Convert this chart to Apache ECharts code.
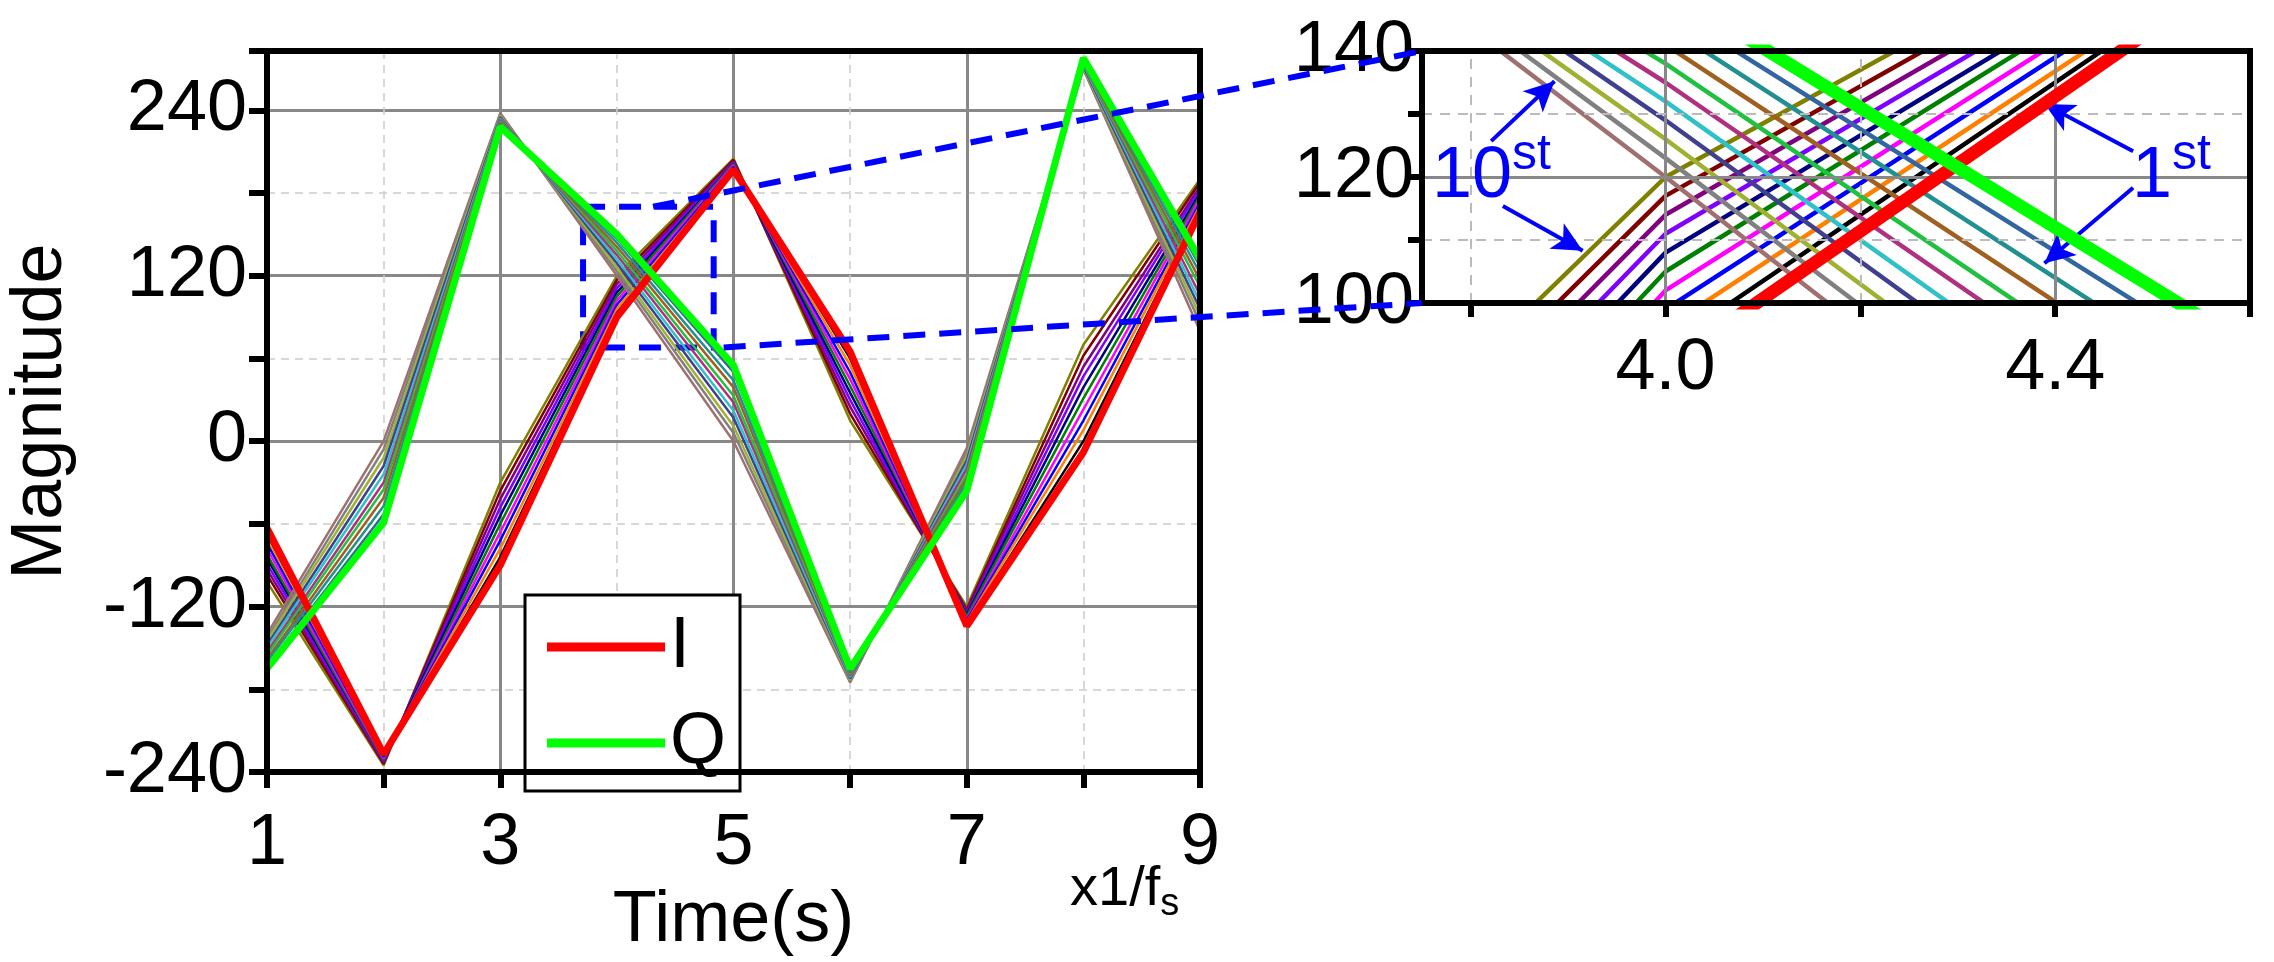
<!DOCTYPE html>
<html>
<head>
<meta charset="utf-8">
<script src="https://cdn.jsdelivr.net/npm/echarts@6/dist/echarts.min.js"></script>
<style>html,body{margin:0;background:#fff}#main{width:2274px;height:962px}</style>
</head>
<body>
<div id="main"></div>
<script>
// sample times
var times = [1, 2, 3, 4, 5, 6, 7, 8, 9];

// I channel, 1st (thick red) .. 11th
var iData = [
  [-63, -227, -90, 90, 197, 65, -134, -8, 166],
  [-67, -228, -84, 93, 198, 60, -133, 0, 168],
  [-70, -228, -78, 96, 198, 55, -131, 8, 171],
  [-74, -229, -72, 99, 199, 50, -130, 15, 173],
  [-78, -230, -66, 102, 200, 45, -129, 23, 176],
  [-82, -231, -60, 105, 201, 40, -127, 31, 178],
  [-85, -231, -54, 108, 201, 35, -126, 39, 180],
  [-89, -232, -48, 111, 202, 30, -125, 47, 183],
  [-93, -233, -42, 114, 203, 25, -123, 54, 185],
  [-97, -234, -36, 117, 204, 20, -122, 62, 188],
  [-102, -235, -30, 120, 205, 15, -120, 70, 190]
];
var iColors = ['#ff0000', '#000000', '#ff8000', '#0000ff', '#ff00ff', '#008000',
  '#000080', '#8000ff', '#800080', '#800000', '#808000'];

// Q channel, 1st (thick green) .. 11th
var qData = [
  [-165, -59, 228, 150, 55, -165, -36, 278, 132],
  [-163, -53, 229, 147, 50, -166, -33, 277, 127],
  [-160, -47, 230, 144, 44, -167, -30, 276, 122],
  [-158, -41, 231, 141, 39, -168, -27, 275, 117],
  [-155, -35, 232, 138, 33, -169, -24, 274, 112],
  [-153, -30, 233, 135, 28, -170, -20, 274, 106],
  [-150, -24, 234, 132, 22, -171, -17, 273, 101],
  [-148, -18, 235, 129, 17, -172, -14, 272, 96],
  [-145, -12, 236, 126, 11, -173, -11, 271, 91],
  [-143, -6, 237, 123, 6, -174, -8, 270, 86],
  [-140, 0, 238, 120, 0, -175, -5, 270, 80]
];
var qColors = ['#00ff00', '#3366a0', '#209090', '#a06020', '#20c040', '#b03080',
  '#30c0c8', '#404090', '#a0b030', '#808080', '#a07070'];

var yTicksMain = [-240, -120, 0, 120, 240];
var zoomBox = {x0: 3.71, x1: 4.83, y0: 68, y1: 170};

var FONT = '"Liberation Sans", sans-serif';
var chart = echarts.init(document.getElementById('main'));

function pairs(vals) {
  return vals.map(function (v, i) { return [times[i], v]; });
}

var series = [];
function addSeries(list, colors, name, gridIdx) {
  for (var k = list.length - 1; k >= 0; k--) {
    series.push({
      name: k === 0 ? name : name + k,
      type: 'line',
      xAxisIndex: gridIdx, yAxisIndex: gridIdx,
      data: pairs(list[k]),
      showSymbol: false, silent: true,
      z: k === 0 ? 5 : 3,
      lineStyle: {color: colors[k], width: k === 0 ? (gridIdx ? 13 : 7) : (gridIdx ? 4.5 : 2.5)},
      itemStyle: {color: colors[k]}
    });
  }
}
addSeries(iData, iColors, 'I', 0);
addSeries(qData, qColors, 'Q', 0);
addSeries(iData, iColors, 'I', 1);
addSeries(qData, qColors, 'Q', 1);

// zoom box on main plot
series.push({
  type: 'line', xAxisIndex: 0, yAxisIndex: 0, data: [], silent: true,
  markArea: {
    silent: true,
    itemStyle: {color: 'rgba(0,0,0,0)', borderColor: '#0000ff', borderWidth: 6, borderType: [22, 14]},
    data: [[{coord: [zoomBox.x0, zoomBox.y1]}, {coord: [zoomBox.x1, zoomBox.y0]}]]
  }, z: 6
});

// inset grid lines and arrows
var dashed = {color: '#bbb', width: 2, type: [10, 8]};
var solid = {color: '#888', width: 3, type: 'solid'};
series.push({
  type: 'line', xAxisIndex: 1, yAxisIndex: 1, data: [], silent: true, z: 1,
  markLine: {
    silent: true, symbol: 'none', label: {show: false},
    data: [
      {xAxis: 3.8, lineStyle: dashed}, {xAxis: 4.2, lineStyle: dashed},
      {xAxis: 4.0, lineStyle: solid}, {xAxis: 4.4, lineStyle: solid},
      {yAxis: 110, lineStyle: dashed}, {yAxis: 130, lineStyle: dashed},
      {yAxis: 120, lineStyle: solid}
    ]
  }
});
var arrows = [
  [[3.821, 125.7], [3.886, 135.2]],
  [[3.833, 115.4], [3.915, 108.3]],
  [[4.480, 124.1], [4.389, 131.6]],
  [[4.480, 118.3], [4.389, 106.3]]
];
series.push({
  type: 'line', xAxisIndex: 1, yAxisIndex: 1, data: [], silent: true, z: 8,
  markLine: {
    silent: true, symbol: ['none', 'arrow'], symbolSize: [22, 30], label: {show: false},
    lineStyle: {color: '#0000ff', width: 4, type: 'solid'},
    data: arrows.map(function (a) { return [{coord: a[0]}, {coord: a[1]}]; })
  }
});

var axisTxt = {color: '#000', fontFamily: FONT, fontSize: 72};

chart.setOption({
  backgroundColor: '#fff',
  animation: false,
  grid: [
    {left: 267, top: 51, width: 933, height: 725, show: true, borderColor: '#000', borderWidth: 6, z: 10},
    {left: 1422, top: 51, width: 828, height: 252, show: true, borderColor: '#000', borderWidth: 6, z: 10}
  ],
  legend: {
    data: ['I', 'Q'], left: 525, top: 595, orient: 'vertical',
    padding: [16, 14, 12, 22], itemGap: 24, itemWidth: 118, itemHeight: 9,
    icon: 'rect', borderColor: '#000', borderWidth: 3, backgroundColor: '#fff',
    textStyle: {fontFamily: FONT, fontSize: 72, color: '#000', padding: [0, 0, 0, 0]}
  },
  xAxis: [
    {
      type: 'value', gridIndex: 0, min: 1, max: 9, interval: 2,
      name: 'Time(s)', nameLocation: 'middle', nameGap: 112,
      nameTextStyle: {fontFamily: FONT, fontSize: 72, color: '#000'},
      axisLine: {show: true, onZero: false, lineStyle: {color: '#000', width: 6}},
      axisTick: {show: true, length: 16, lineStyle: {width: 6, color: '#000'}},
      minorTick: {show: true, splitNumber: 2, length: 16, lineStyle: {width: 6, color: '#000'}},
      axisLabel: Object.assign({margin: 36}, axisTxt),
      splitLine: {show: true, lineStyle: {color: '#888', width: 3}},
      minorSplitLine: {show: true, lineStyle: {color: '#ccc', width: 1.5, type: [8, 6]}}
    },
    {
      type: 'value', gridIndex: 1, min: 3.75, max: 4.6,
      axisLine: {show: true, onZero: false, lineStyle: {color: '#000', width: 6}},
      axisTick: {show: true, length: 14, customValues: [3.8, 4.0, 4.2, 4.4, 4.6], lineStyle: {width: 6, color: '#000'}},
      axisLabel: Object.assign({margin: 30, customValues: [4.0, 4.4],
        formatter: function (v) { return v.toFixed(1); }}, axisTxt),
      splitLine: {show: false}
    }
  ],
  yAxis: [
    {
      type: 'value', gridIndex: 0, min: -240, max: 283, interval: 120,
      name: 'Magnitude', nameLocation: 'middle', nameGap: 190, nameRotate: 90,
      nameTextStyle: {fontFamily: FONT, fontSize: 72, color: '#000'},
      axisLine: {show: true, onZero: false, lineStyle: {color: '#000', width: 6}},
      axisTick: {show: true, length: 18, lineStyle: {width: 6, color: '#000'}},
      minorTick: {show: true, splitNumber: 2, length: 18, lineStyle: {width: 6, color: '#000'}},
      axisLabel: Object.assign({margin: 20, customValues: yTicksMain}, axisTxt),
      splitLine: {show: true, lineStyle: {color: '#888', width: 3}},
      minorSplitLine: {show: true, lineStyle: {color: '#ccc', width: 1.5, type: [8, 6]}}
    },
    {
      type: 'value', gridIndex: 1, min: 100, max: 140, interval: 20,
      axisLine: {show: true, onZero: false, lineStyle: {color: '#000', width: 6}},
      axisTick: {show: true, length: 14, lineStyle: {width: 6, color: '#000'}},
      minorTick: {show: true, splitNumber: 2, length: 14, lineStyle: {width: 6, color: '#000'}},
      axisLabel: Object.assign({margin: 8}, axisTxt),
      splitLine: {show: false}
    }
  ],
  series: series
});

// connectors from zoom box to inset, plus text labels
var tl = chart.convertToPixel({gridIndex: 0}, [zoomBox.x0, zoomBox.y1]);
var br = chart.convertToPixel({gridIndex: 0}, [zoomBox.x1, zoomBox.y0]);
var itl = chart.convertToPixel({gridIndex: 1}, [3.75, 140]);
var ibl = chart.convertToPixel({gridIndex: 1}, [3.75, 100]);
var conn = {stroke: '#0000ff', lineWidth: 6, lineDash: [22, 14]};
chart.setOption({
  graphic: [
    {type: 'polyline', z: 20, shape: {points: [[tl[0] + 70, tl[1]], [itl[0], itl[1]]]}, style: conn},
    {type: 'polyline', z: 20, shape: {points: [[br[0] + 10, br[1]], [ibl[0], ibl[1]]]}, style: conn},
    {type: 'text', z: 30, left: 1070, top: 862, style: {
      text: '{a|x1/f}{b|s}', rich: {
        a: {fontFamily: FONT, fontSize: 56, fill: '#000'},
        b: {fontFamily: FONT, fontSize: 38, fill: '#000', padding: [30, 0, 0, 0]}
      }}},
    {type: 'text', z: 30, left: 1432, top: 130, style: {
      text: '{a|10}{b|st}', rich: {
        a: {fontFamily: FONT, fontSize: 72, fill: '#0000ff'},
        b: {fontFamily: FONT, fontSize: 50, fill: '#0000ff', padding: [0, 0, 44, 0]}
      }}},
    {type: 'text', z: 30, left: 2132, top: 130, style: {
      text: '{a|1}{b|st}', rich: {
        a: {fontFamily: FONT, fontSize: 72, fill: '#0000ff'},
        b: {fontFamily: FONT, fontSize: 50, fill: '#0000ff', padding: [0, 0, 44, 0]}
      }}}
  ]
});
</script>
</body>
</html>
